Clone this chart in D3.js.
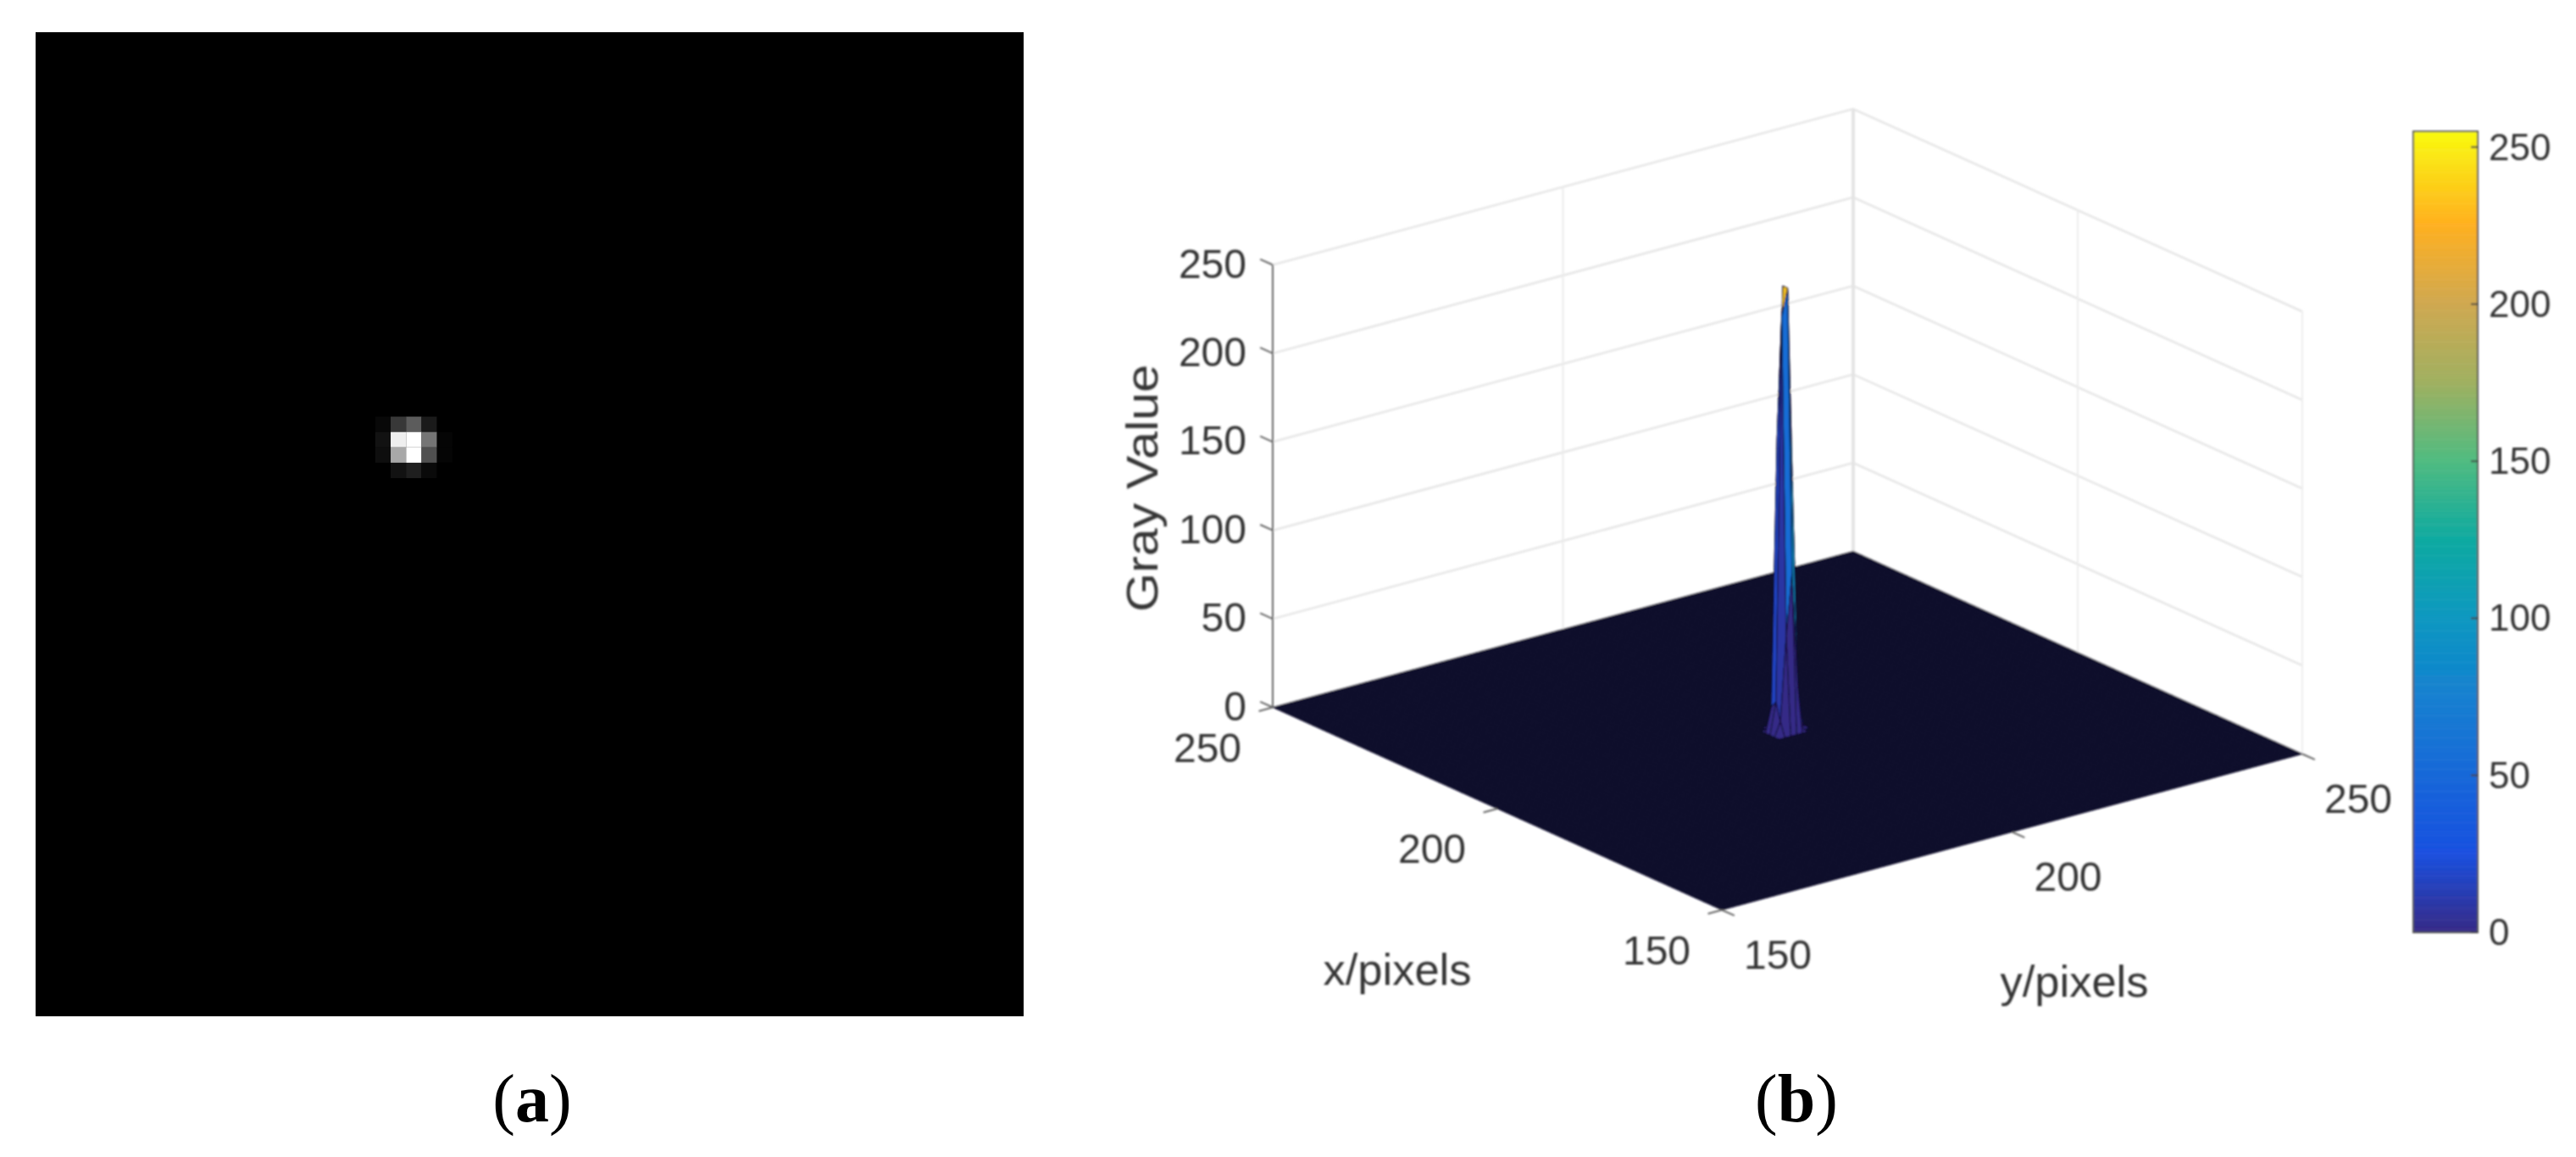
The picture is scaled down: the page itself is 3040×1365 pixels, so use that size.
<!DOCTYPE html>
<html>
<head>
<meta charset="utf-8">
<script src="https://d3js.org/d3.v7.min.js"></script>
<style>
  html, body { margin: 0; padding: 0; background: #fff; }
  text { font-family: "Liberation Sans", Arial, sans-serif; fill: #363636; }
</style>
</head>
<body>
<div id="chart"></div>
<script>
// gray values around the bright spot
var spotRows = [
  [8, 55, 90, 25, 0],
  [18, 234, 250, 115, 5],
  [14, 165, 250, 78, 5],
  [0, 18, 30, 10, 0]
];
var imageSize = 64;
var spotFirstRow = 25;
var spotFirstCol = 22;

var axisTicks = [150, 200, 250];
var grayTicks = [0, 50, 100, 150, 200, 250];
var colorbarTicks = [0, 50, 100, 150, 200, 250];

// surface position of the same spot in pixel coordinates
var spotFirstX = 199;
var spotFirstY = 198;

var colorStops = [0, 25, 50, 75, 100, 125, 150, 175, 200, 225, 255];
var colorValues = ["#352a87", "#1a50e0", "#1268d8", "#1480d0", "#0a98c0", "#10aaa0", "#50bb80", "#a0b060", "#d0a850", "#ffb020", "#f9fb0e"];
var floorColor = "#0e0a2b";

var svg = d3.select("#chart").append("svg")
  .attr("width", 3040)
  .attr("height", 1365);

var defs = svg.append("defs");
defs.append("filter").attr("id", "soft")
  .append("feGaussianBlur").attr("stdDeviation", 0.9);

var parula = d3.scaleLinear().domain(colorStops).range(colorValues);

// panel (a)
var colScale = d3.scaleBand().domain(d3.range(imageSize)).range([42, 1208]);
var rowScale = d3.scaleBand().domain(d3.range(imageSize)).range([38, 1199]);
var gray = d3.scaleLinear().domain([0, 250]).range(["#000", "#fff"]);

var panelA = svg.append("g");
panelA.append("rect")
  .attr("x", 42).attr("y", 38)
  .attr("width", 1166).attr("height", 1161)
  .attr("fill", "#000");

spotRows.forEach((row, i) => {
  row.forEach((value, j) => {
    panelA.append("rect")
      .attr("x", colScale(spotFirstCol + j))
      .attr("y", rowScale(spotFirstRow + i))
      .attr("width", colScale.bandwidth())
      .attr("height", rowScale.bandwidth())
      .attr("fill", gray(value));
  });
});

// panel (b), axes are straight lines on screen so four scales are enough
var xToLeft = d3.scaleLinear().domain([150, 250]).range([0, -530]);
var xToUp = d3.scaleLinear().domain([150, 250]).range([0, -239]);
var yToLeft = d3.scaleLinear().domain([150, 250]).range([0, 685]);
var yToUp = d3.scaleLinear().domain([150, 250]).range([0, -184]);
var zToUp = d3.scaleLinear().domain([0, 250]).range([0, -522]);
var originX = 2032;
var originY = 1073.5;

function project(x, y, z) {
  return [
    originX + xToLeft(x) + yToLeft(y),
    originY + xToUp(x) + yToUp(y) + zToUp(z)
  ];
}

var line3d = d3.line();
var panelB = svg.append("g").attr("filter", "url(#soft)");

function drawLine(points, color, width) {
  panelB.append("path")
    .attr("d", line3d(points.map((p) => project(p[0], p[1], p[2]))))
    .attr("fill", "none")
    .attr("stroke", color)
    .attr("stroke-width", width);
}

// walls
grayTicks.forEach((z) => {
  drawLine([[250, 150, z], [250, 250, z], [150, 250, z]], "#e6e6e6", 2.5);
});
drawLine([[250, 200, 0], [250, 200, 250]], "#ececec", 2);
drawLine([[200, 250, 0], [200, 250, 250]], "#ececec", 2);
drawLine([[250, 250, 0], [250, 250, 250]], "#e4e4e4", 4);
drawLine([[150, 250, 0], [150, 250, 250]], "#eeeeee", 2);

// surface
function surfaceValue(x, y) {
  var row = spotRows[x - spotFirstX];
  if (!row) return 0;
  return row[y - spotFirstY] || 0;
}

var surfaceX = d3.range(250, 150, -1);
var surfaceY = d3.range(250, 150, -1);
var surface = panelB.append("g");

surfaceX.forEach((x) => {
  surfaceY.forEach((y) => {
    var corners = [[x, y], [x - 1, y], [x - 1, y - 1], [x, y - 1]];
    var values = corners.map((c) => surfaceValue(c[0], c[1]));
    var raised = d3.max(values) > 0;
    // face takes the colour of its front corner
    var pts = corners.map((c, i) => project(c[0], c[1], values[i]));
    surface.append("path")
      .attr("d", line3d(pts) + "Z")
      .attr("fill", raised ? parula(values[2]) : floorColor)
      .attr("stroke", raised ? "#100c30" : floorColor)
      .attr("stroke-width", raised ? 1.1 : 1);
  });
});

// z axis and ticks
drawLine([[250, 150, 0], [250, 150, 250]], "#666", 2);
grayTicks.forEach((z) => {
  drawLine([[250, 150, z], [252.8, 150, z]], "#666", 2);
});
axisTicks.forEach((t) => {
  drawLine([[t, 150, 0], [t, 147.6, 0]], "#666", 2);
  drawLine([[150, t, 0], [147.2, t, 0]], "#666", 2);
});

// tick labels
var labels = panelB.append("g").attr("font-size", 48);

labels.selectAll(".zlab").data(grayTicks).join("text")
  .attr("class", "zlab")
  .attr("x", 1471)
  .attr("y", (d) => project(250, 150, d)[1] + 15)
  .attr("text-anchor", "end")
  .text((d) => d);

labels.selectAll(".xlab").data(axisTicks).join("text")
  .attr("class", "xlab")
  .attr("x", (d) => project(d, 150, 0)[0] - 77)
  .attr("y", (d) => project(d, 150, 0)[1] + 64)
  .attr("text-anchor", "middle")
  .text((d) => d);

labels.selectAll(".ylab").data(axisTicks).join("text")
  .attr("class", "ylab")
  .attr("x", (d) => project(150, d, 0)[0] + 66)
  .attr("y", (d) => project(150, d, 0)[1] + 69)
  .attr("text-anchor", "middle")
  .text((d) => d);

// the source image is stretched along this label
panelB.append("text")
  .attr("transform", "translate(1366,576) rotate(-90) scale(1.14,1)")
  .attr("text-anchor", "middle")
  .attr("font-size", 52)
  .text("Gray Value");

panelB.append("text")
  .attr("x", 1649).attr("y", 1162)
  .attr("text-anchor", "middle")
  .attr("font-size", 52.5)
  .text("x/pixels");

panelB.append("text")
  .attr("x", 2448).attr("y", 1176)
  .attr("text-anchor", "middle")
  .attr("font-size", 52.5)
  .text("y/pixels");

// colorbar
var barScale = d3.scaleLinear().domain([0, 255]).range([1100, 155]);
var colorbar = svg.append("g").attr("filter", "url(#soft)");

colorbar.selectAll("rect").data(d3.range(0, 255)).join("rect")
  .attr("x", 2848)
  .attr("y", (d) => barScale(d + 1))
  .attr("width", 76)
  .attr("height", (d) => barScale(d) - barScale(d + 1) + 0.5)
  .attr("fill", (d) => parula(d));

colorbar.append("rect")
  .attr("x", 2848).attr("y", 155)
  .attr("width", 76).attr("height", 945)
  .attr("fill", "none")
  .attr("stroke", "#555")
  .attr("stroke-width", 2);

colorbar.selectAll("line").data(colorbarTicks).join("line")
  .attr("x1", 2916).attr("x2", 2924)
  .attr("y1", (d) => barScale(d)).attr("y2", (d) => barScale(d))
  .attr("stroke", "#444")
  .attr("stroke-width", 2);

colorbar.selectAll("text").data(colorbarTicks).join("text")
  .attr("x", 2937)
  .attr("y", (d) => barScale(d) + 15)
  .attr("font-size", 44)
  .text((d) => d);

// captions
function caption(cx, letter) {
  var t = svg.append("text")
    .attr("x", cx).attr("y", 1323)
    .attr("text-anchor", "middle")
    .attr("font-size", 80)
    .style("font-family", "'Liberation Serif', serif")
    .style("fill", "#000");
  t.append("tspan").text("(");
  t.append("tspan").attr("font-weight", "bold").text(letter);
  t.append("tspan").text(")");
}
caption(628, "a");
caption(2120, "b");
</script>
</body>
</html>
